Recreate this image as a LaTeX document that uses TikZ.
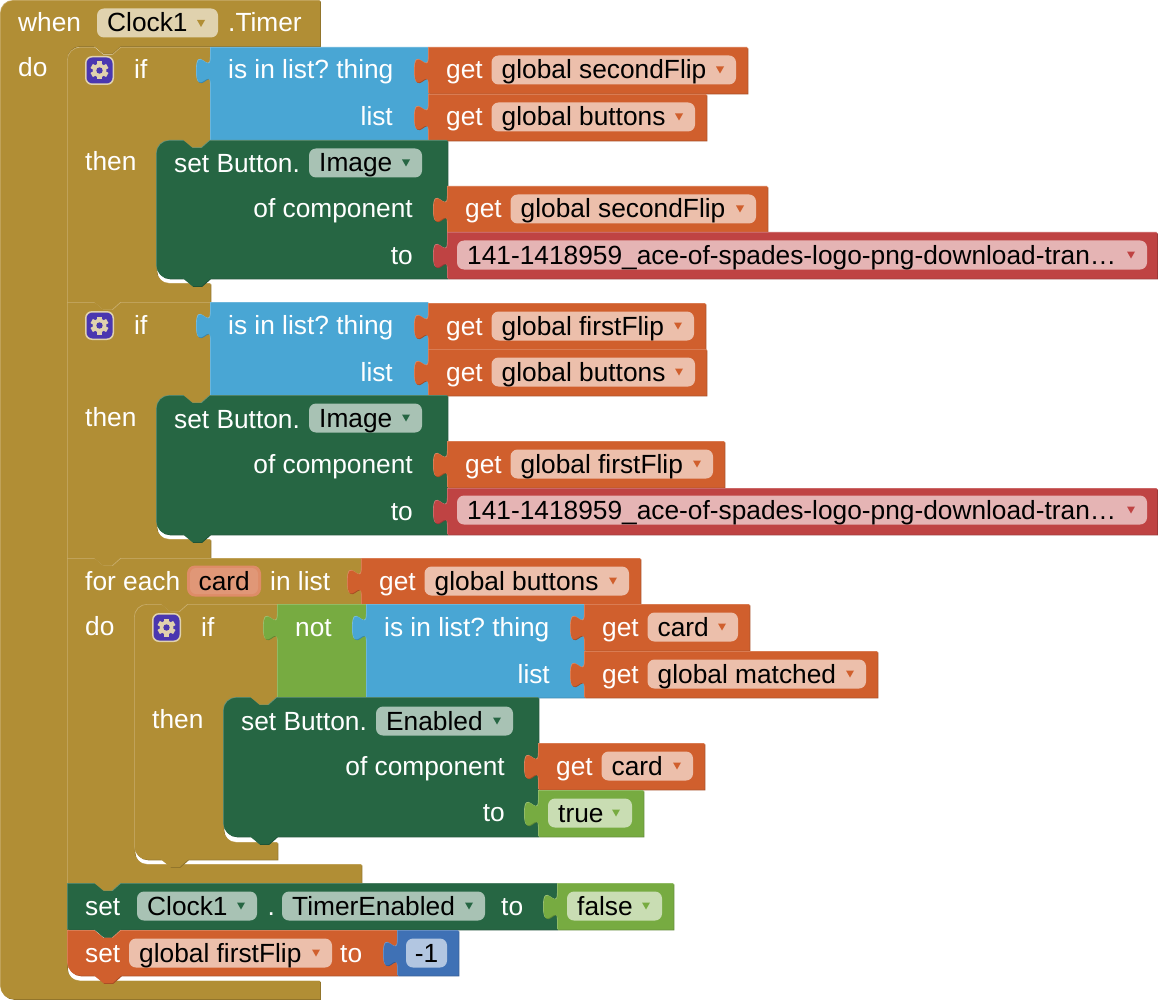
\documentclass[tikz,border=0pt]{standalone}
\usepackage{fontspec}
\setmainfont{Liberation Sans}
\definecolor{muM}{HTML}{B18E35}\definecolor{muL}{HTML}{C9AE6E}\definecolor{muD}{HTML}{8E722A}\definecolor{muF}{HTML}{E0D2AE}
\definecolor{blM}{HTML}{49A6D4}\definecolor{blL}{HTML}{7FC0E1}\definecolor{blD}{HTML}{3A85AA}
\definecolor{orM}{HTML}{D05F2D}\definecolor{orL}{HTML}{DE8C68}\definecolor{orD}{HTML}{A64C24}\definecolor{orF}{HTML}{ECBFAB}
\definecolor{grM}{HTML}{266643}\definecolor{grL}{HTML}{67947B}\definecolor{grD}{HTML}{1E5236}\definecolor{grF}{HTML}{A8C2B4}
\definecolor{reM}{HTML}{BF4343}\definecolor{reL}{HTML}{D27B7B}\definecolor{reD}{HTML}{993636}\definecolor{reF}{HTML}{E5B4B4}
\definecolor{liM}{HTML}{77AB41}\definecolor{liL}{HTML}{A0C47A}\definecolor{liD}{HTML}{5F8934}\definecolor{liF}{HTML}{C9DDB3}
\definecolor{nuM}{HTML}{3F71B5}\definecolor{nuL}{HTML}{789BCB}\definecolor{nuD}{HTML}{325A91}\definecolor{nuF}{HTML}{B2C6E1}
\definecolor{gearbg}{HTML}{4A37B0}
\newcounter{nn}
\tikzset{
  txt/.style={inner sep=0pt,font=\fontsize{26.3}{30}\selectfont\frenchspacing},
  lblL/.style={txt,text=white,anchor=base west},
  lblR/.style={txt,text=white,anchor=base east},
  fldT/.style={txt,text=black,anchor=base west},
  fldC/.style={txt,text=black,anchor=base},
}
% ---- path pieces
\newcommand{\rnd}[6]{-- ({#1+#3},{#2+#4}) .. controls ({#1+.45*#3},{#2+.45*#4}) and ({#1+.45*#5},{#2+.45*#6}) .. ({#1+#5},{#2+#6})}
\newcommand{\tnotch}[2]{-- ({#1+27},#2) -- ({#1+36},{#2+7.5}) -- ({#1+45},{#2+7.5}) -- ({#1+53.5},#2)}
\newcommand{\btab}[2]{-- ({#1+53.5},#2) -- ({#1+45},{#2+7.5}) -- ({#1+36},{#2+7.5}) -- ({#1+27},#2)}
\newcommand{\ltab}[2]{-- (#1,#2) .. controls (#1,{#2-17.5}) and ({#1-14},{#2+14}) .. ({#1-14},{#2-13.1}) .. controls ({#1-14},{#2-40.2}) and (#1,{#2-8.75}) .. (#1,{#2-26.25})}
% ---- block: colour prefix, path
\newcommand{\blk}[2]{%
  \fill[#1D,shift={(1.3,1.3)}] #2;
  \fill[#1L] #2;
  \fill[#1M,shift={(.6,.6)}] #2;}
% statement block with C input
\newcommand{\cblk}[9]{\blk{mu}{({#1},{#2+#8}) \rnd{#1}{#2}{0}{#8}{#8}{0} \tnotch{#1}{#2} -- (#3,#2) -- (#3,#5) \btab{#4}{#5} \rnd{#4}{#5}{13}{0}{0}{13} \rnd{#4}{#6}{0}{-13}{13}{0} -- (#3,#6) -- (#3,#7) \btab{#1}{#7} \rnd{#1}{#7}{#9}{0}{0}{-#9} -- cycle}}
% statement block: colour, x, y, xr, Y, rt, rb
\newcommand{\sblk}[7]{\blk{#1}{(#2,{#3+#6}) \rnd{#2}{#3}{0}{#6}{#6}{0} \tnotch{#2}{#3} -- (#4,#3) -- (#4,#5) \btab{#2}{#5} \rnd{#2}{#5}{#7}{0}{0}{-#7} -- cycle}}
% value block: colour, x1, x2, y1, y2
\newcommand{\vblk}[5]{\blk{#1}{(#2,#4) -- (#3,#4) -- (#3,#5) -- (#2,#5) \ltab{#2}{#4+36.5} -- cycle}}
% labels
\newcommand{\lab}[3]{\stepcounter{nn}\node[lblL] (n\arabic{nn}) at (#1,{#2+9}) {#3};}
\newcommand{\labr}[3]{\stepcounter{nn}\node[lblR] (n\arabic{nn}) at (#1,{#2+9}) {#3};}
% field: colour, x1, x2, yc, text
\newcommand{\fld}[5]{\fill[#1F,rounded corners=7] (#2,{#4-14.5}) rectangle (#3,{#4+14.5});
  \stepcounter{nn}\node[fldT] (n\arabic{nn}) at ({#2+10},{#4+9}) {#5};
  \fill[#1M] ({#3-20},{#4-3.5}) -- ({#3-12},{#4-3.5}) -- ({#3-16},{#4+3.5}) -- cycle;}
% gear icon: x, y
\newcommand{\gear}[2]{
  \fill[muF,rounded corners=7] ({#1+1},{#2+1}) rectangle ({#1+30},{#2+30});
  \fill[gearbg,rounded corners=6] ({#1+2.5},{#2+2.5}) rectangle ({#1+28.5},{#2+28.5});
  \foreach \a in {0,60,...,300}{\fill[muF,shift={({#1+15.5},{#2+15.5})},rotate=\a] (-2.4,-9) -- (2.4,-9) -- (2.4,0) -- (-2.4,0) -- cycle;}
  \fill[muF] ({#1+15.5},{#2+15.5}) circle[radius=6.8];
  \fill[gearbg] ({#1+15.5},{#2+15.5}) circle[radius=3.2];}
% get block with field: x1, x2, y, text
\newcommand{\getblk}[4]{\vblk{or}{#1}{#2}{#3}{#3+46}
  \lab{#1+18}{#3+23}{get}
  \fld{or}{#1+63.5}{#2-11}{#3+23}{#4}}
\begin{document}
\begin{tikzpicture}[x=1pt,y=-1pt]
\useasboundingbox[fill=white] (0,0) rectangle (1158,1000);
% when block
\blk{mu}{(0,13) \rnd{0}{0}{0}{13}{13}{0} -- (319.5,0) -- (319.5,45.5) \btab{66.5}{45.5} \rnd{66.5}{45.5}{13}{0}{0}{13} \rnd{66.5}{980.5}{0}{-13}{13}{0} -- (319.5,980.5) -- (319.5,998.5) \rnd{0}{998.5}{13}{0}{0}{-13} -- cycle}
\lab{18}{23}{when}
\fill[muF,rounded corners=7] (97,8.5) rectangle (218,37.5);
\node[fldT] (clockfld) at (107,32) {Clock1};
\fill[muM] (197,20) -- (205,20) -- (201,27) -- cycle;
\lab{228}{23}{.Timer}
\lab{18}{68}{do}
% ---------- if 1
\cblk{67}{47}{210}{156}{140}{283}{302}{13}{0}
\gear{84}{55}
\lab{134}{70}{if}
\lab{85}{162}{then}
\vblk{bl}{210}{428}{47}{140}
\lab{228}{70}{is in list? thing}
\labr{393}{117}{list}
\getblk{428}{747}{47}{global secondFlip}
\getblk{428}{706}{94}{global buttons}
\sblk{gr}{156}{140}{447}{278}{13}{13}
\lab{174}{164}{set Button.}
\fld{gr}{309}{422}{163}{Image}
\labr{413}{209}{of component}
\labr{413}{256}{to}
\getblk{447}{767}{186}{global secondFlip}
\vblk{re}{447}{1156.5}{232}{278}
\fld{re}{457}{1147}{255}{141-1418959\_ace-of-spades-logo-png-download-tran…}
% ---------- if 2
\cblk{67}{302}{210}{156}{395}{539}{558}{0}{0}
\gear{84}{310}
\lab{134}{325}{if}
\lab{85}{417}{then}
\vblk{bl}{210}{428}{302}{395}
\lab{228}{325}{is in list? thing}
\labr{393}{372}{list}
\getblk{428}{705}{303}{global firstFlip}
\getblk{428}{706}{349}{global buttons}
\sblk{gr}{156}{395}{447}{534}{13}{13}
\lab{174}{419}{set Button.}
\fld{gr}{309}{422}{418}{Image}
\labr{413}{464}{of component}
\labr{413}{511}{to}
\getblk{447}{724}{441}{global firstFlip}
\vblk{re}{447}{1156.5}{488}{534}
\fld{re}{457}{1147}{510}{141-1418959\_ace-of-spades-logo-png-download-tran…}
% ---------- for each
\cblk{67}{558}{361}{134}{604}{864}{883}{0}{0}
\lab{85}{581}{for each}
\fill[orL,rounded corners=8] (187,565.5) rectangle (261,596.5);
\fill[orM!65!white,rounded corners=6] (190,568) rectangle (258,594);
\node[fldT] (cardvar) at (198.5,590) {card};
\lab{270}{581}{in list}
\getblk{361}{640}{558}{global buttons}
\lab{85}{626}{do}
% ---------- if 3
\cblk{134}{604}{277}{223}{697}{842}{859}{13}{13}
\gear{151}{612}
\lab{201}{627}{if}
\lab{152}{719}{then}
\vblk{li}{277}{366}{604}{697}
\lab{295}{627}{not}
\vblk{bl}{366}{584}{604}{697}
\lab{384}{627}{is in list? thing}
\labr{550}{674}{list}
\getblk{584}{749}{604}{card}
\getblk{584}{877}{651}{global matched}
\sblk{gr}{223}{697}{538}{836}{13}{13}
\lab{241}{721}{set Button.}
\fld{gr}{376}{513}{721}{Enabled}
\labr{505}{766}{of component}
\labr{505}{812}{to}
\getblk{538}{704}{743}{card}
\vblk{li}{538}{643}{790}{836}
\fld{li}{548}{632}{813}{true}
% ---------- set clock
\sblk{gr}{67}{883}{557}{929}{0}{0}
\lab{85}{906}{set}
\fld{gr}{137}{257}{906}{Clock1}
\lab{267.5}{906}{.}
\fld{gr}{282}{485}{906}{TimerEnabled}
\lab{501}{906}{to}
\vblk{li}{557}{673}{883}{929}
\fld{li}{567}{662}{906}{false}
% ---------- set global
\sblk{or}{67}{930}{397}{975}{0}{13}
\lab{85}{953}{set}
\fld{or}{129}{332}{953}{global firstFlip}
\lab{340}{953}{to}
\vblk{nu}{397}{458}{930}{975}
\fill[nuF,rounded corners=7] (406,938.5) rectangle (447,967.5);
\node[fldC] (minusone) at (426.5,962) {-1};
\end{tikzpicture}
\end{document}
